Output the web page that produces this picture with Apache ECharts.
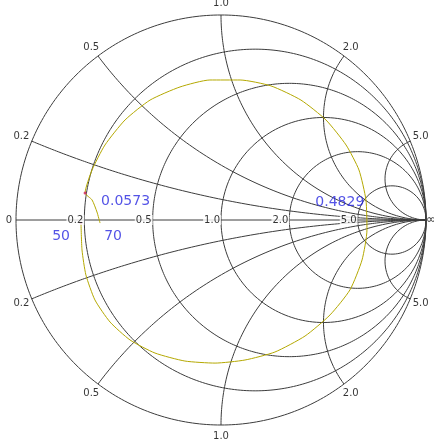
<!DOCTYPE html><html><head><meta charset="utf-8">
<script src="https://cdn.jsdelivr.net/npm/echarts@6/dist/echarts.min.js"></script>
<style>html,body{margin:0;padding:0;background:#fff}#c{width:434px;height:442px}</style></head><body><div id="c"></div>
<script>
// grid values
const resistances=[0.2,0.5,1,2,5];
const reactances=[0.2,0.5,1,2,5];
const rLabels=['0.2','0.5','1.0','2.0','5.0'];
const xLabels=['0.2','0.5','1.0','2.0','5.0'];
const traceRe=[-0.683,-0.678,-0.659,-0.615,-0.541,-0.444,-0.322,-0.176,-0.029,0.117,0.263,0.410,0.532,0.629,0.688,0.712,0.707,0.673,0.610,0.512,0.390,0.244,0.093,-0.054,-0.200,-0.346,-0.468,-0.566,-0.629,-0.663,-0.629,-0.605,-0.590];
const traceIm=[-0.015,-0.146,-0.268,-0.390,-0.498,-0.585,-0.649,-0.688,-0.698,-0.683,-0.644,-0.566,-0.463,-0.341,-0.195,-0.049,0.098,0.244,0.366,0.488,0.585,0.654,0.683,0.683,0.649,0.585,0.488,0.366,0.244,0.132,0.098,0.039,-0.015];
const markerIdx=[0,29];
const annotations=[{t:'0.0573',re:-0.585,im:0.09,a:'left'},{t:'0.4829',re:0.46,im:0.085,a:'left'},{t:'50',re:-0.78,im:-0.08,a:'center'},{t:'70',re:-0.57,im:-0.08,a:'left'}];

function g(r,x){const dr=r+1,nr=r-1,den=dr*dr+x*x;return [(nr*dr+x*x)/den,(x*dr-nr*x)/den];}
const series=[];
const gridStyle={color:'#3c3c3c',width:1};
function add(d,style){series.push({type:'line',data:d,showSymbol:false,silent:true,lineStyle:style,z:1,clip:false});}
let oc=[];for(let i=0;i<=360;i++){const t=i*Math.PI/180;oc.push([Math.cos(t),Math.sin(t)]);}add(oc,gridStyle);
add([[-1,0],[1,0]],gridStyle);
resistances.forEach(r=>{const c=r/(1+r),rad=1/(1+r);let d=[];for(let i=0;i<=360;i++){const t=i*Math.PI/180;d.push([c+rad*Math.cos(t),rad*Math.sin(t)]);}add(d,gridStyle);});
reactances.forEach(x=>{[x,-x].forEach(xx=>{let d=[];for(let i=0;i<=300;i++){const r=Math.pow(10,-3+i*0.02);d.push(g(r,xx));}d.unshift(g(0,xx));d.push([1,0]);add(d,gridStyle);});});
// trace
series.push({type:'line',data:traceRe.map((v,i)=>[v,traceIm[i]]),showSymbol:false,smooth:0.2,lineStyle:{color:'#b4a800',width:1},z:3});
series.push({type:'scatter',data:markerIdx.map(i=>[traceRe[i],traceIm[i]]),symbol:'circle',symbolSize:3,itemStyle:{color:'#d02060'},z:4});
// labels
const lab=[];
resistances.forEach((r,i)=>lab.push({value:[(r-1)/(r+1),0],label:{show:true,formatter:rLabels[i],position:'left',distance:0,backgroundColor:'#fff',padding:[0,1]}}));
reactances.forEach((x,i)=>{[x,-x].forEach(xx=>{const p=g(0,xx);lab.push({value:[p[0]*1.055,p[1]*1.055],label:{show:true,formatter:xLabels[i],position:'inside'}});});});
lab.push({value:[-1.035,0],label:{show:true,formatter:'0',position:'inside'}});
lab.push({value:[1.0,0],label:{show:true,formatter:'∞',position:'right',distance:0,fontSize:12}});
series.push({type:'scatter',data:lab,symbolSize:0,clip:false,label:{color:'#000',fontSize:10,fontFamily:'DejaVu Sans'},z:5,silent:true});
series.push({type:'scatter',data:annotations.map(a=>({value:[a.re,a.im],label:{show:true,formatter:a.t,position:a.a==='left'?'right':'inside',distance:0}})),symbolSize:0,clip:false,label:{color:'#2828e0',fontSize:14,fontFamily:'DejaVu Sans'},z:6,silent:true});
const ch=echarts.init(document.getElementById('c'));
ch.setOption({animation:false,grid:{left:16,right:8,top:15,bottom:17},
xAxis:{type:'value',min:-1,max:1,show:false},yAxis:{type:'value',min:-1,max:1,show:false},series});
</script></body></html>
